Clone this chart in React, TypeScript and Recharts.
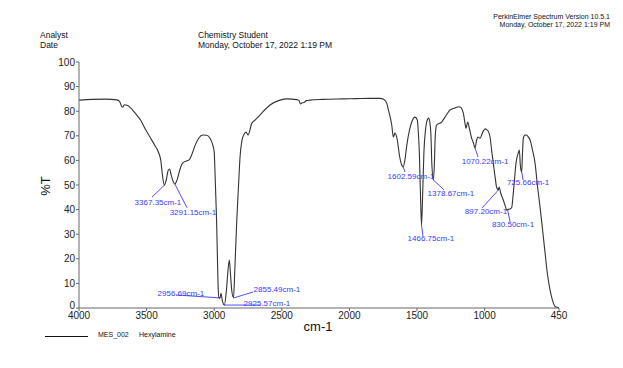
import React from 'react';
import {
    ComposedChart, Line, Scatter, XAxis, YAxis, ReferenceLine,
} from 'recharts';

// spectrum (cm-1 descending)
const wavenumbers = [
    4000, 3900, 3800, 3720, 3700, 3685, 3677, 3665, 3640, 3586, 3540, 3512, 3475, 3438, 3410, 3395, 3385, 3369,
    3355, 3340, 3330, 3318, 3300, 3290, 3275, 3255, 3235, 3204, 3185, 3165, 3142, 3115, 3083, 3055, 3031, 3012,
    3000, 2994, 2988, 2982, 2976, 2970, 2965, 2957, 2950, 2940, 2925, 2910, 2900, 2888, 2880, 2870, 2857, 2848,
    2834, 2820, 2809, 2795, 2780, 2765, 2750, 2735, 2723, 2698, 2661, 2612, 2587, 2513, 2464, 2390, 2372, 2362,
    2350, 2335, 2320, 2292, 2200, 2045, 1950, 1848, 1774, 1745, 1724, 1712, 1700, 1687, 1675, 1663, 1646, 1630,
    1613, 1603, 1590, 1576, 1555, 1539, 1515, 1498, 1490, 1483, 1473, 1467, 1460, 1449, 1438, 1429, 1414, 1405,
    1397, 1390, 1379, 1372, 1365, 1355, 1318, 1293, 1256, 1219, 1195, 1182, 1158, 1145, 1138, 1125, 1113, 1096,
    1082, 1071, 1059, 1050, 1034, 1014, 995, 985, 970, 960, 948, 936, 922, 911, 899, 893, 881, 862, 845, 837,
    830, 815, 800, 788, 778, 768, 751, 743, 736, 726, 720, 714, 704, 694, 680, 664, 645, 627, 610, 590, 570, 553,
    535, 516, 500, 479, 465, 450,
];
const transmittance = [
    84.5, 84.8, 84.9, 84.6, 84.0, 82.0, 81.6, 82.6, 82.3, 79.3, 76, 73, 69.5, 66, 63, 60, 55, 50,
    52, 56, 56.5, 54, 51, 50.4, 52, 56, 58.8, 59.8, 60.2, 62.5, 66, 69, 70.3, 70.2, 69, 66.5,
    63.4, 55, 45, 34.5, 20, 7.3, 4.2, 4.0, 6.0, 3, 1.2, 7, 14, 19.5, 14, 7, 4.2, 15,
    34.5, 50, 61.4, 68, 70.5, 71.5, 70.3, 72.5, 75, 76.4, 78.5, 81.3, 82.5, 84.5, 85, 84.7, 84.3, 82.9,
    83.4, 83.5, 84.3, 84.5, 84.8, 85, 85.1, 85.2, 85.2, 84.8, 83.3, 80.5, 78, 74.4, 69.5, 71.1, 68.3, 62,
    58.1, 57.3, 60, 66, 72.5, 75.6, 77.6, 76.4, 71, 63.4, 43, 33.7, 43, 63.4, 72, 75.6, 77.2, 75.5,
    70, 58, 52, 58, 70, 74.4, 75.6, 77.6, 80.5, 81.3, 81.8, 81.7, 79.3, 75, 73, 75.6, 73, 69,
    67, 65, 68.3, 69.5, 69, 71.5, 72.8, 72.5, 71.5, 69.5, 64, 58.9, 53, 49, 48, 49.2, 46.7, 43.9, 41, 39.8,
    40, 40.2, 40.8, 46.7, 53, 58.9, 63, 64.2, 58, 55.3, 63, 69, 70.2, 70.3, 69.8, 68.3, 64, 58.9, 50, 41, 31, 22.4,
    13.5, 7.3, 3.5, 0.6, 0.3, 0,
];

const xTicks = [4000, 3500, 3000, 2500, 2000, 1500, 1000, 450];
const yTicks = [0, 10, 20, 30, 40, 50, 60, 70, 80, 90, 100];

// peak labels: peak (cm-1, %T), leader end, text centre
const peakNames = ['3367.35cm-1', '3291.15cm-1', '2956.69cm-1', '2925.57cm-1', '2855.49cm-1', '1602.59cm-1',
    '1378.67cm-1', '1466.75cm-1', '1070.22cm-1', '725.66cm-1', '897.20cm-1', '830.50cm-1'];
const peakWn = [3367.35, 3291.15, 2956.69, 2925.57, 2855.49, 1602.59, 1378.67, 1466.75, 1070.22, 725.66, 897.2, 830.5];
const peakT = [50, 50.4, 4.1, 1.2, 4.1, 57.3, 52, 33.7, 65, 55.3, 48, 40];
const leadWn = [3460, 3201, 3283, 2661, 2713, 1589, 1300, 1456, 1049, 716, 1019, 812];
const leadT = [45.1, 40.7, 5.3, 1.2, 6.5, 55.3, 48, 29.3, 61.4, 52, 40.7, 35];
const textWn = [3416, 3157, 3246, 2610, 2536, 1545, 1249, 1397, 997, 679, 990, 790];
const textT = [43.1, 39.0, 6.1, 2.0, 7.7, 53.7, 46.7, 28.5, 59.8, 51.2, 39.4, 34.1];

const spectrum = wavenumbers.map((wn, i) => ({ wn, t: transmittance[i] }));
const peakLabels = peakNames.map((name, i) => ({ wn: textWn[i], t: textT[i], name }));

const FONT = '"Liberation Sans", Arial, sans-serif';
const BLUE = '#3a3aff';

const PeakText = (props: any) => {
    const { cx, cy, payload } = props;
    if (cx == null || cy == null) return null;
    return (
        <text x={cx} y={cy} dy={3} textAnchor="middle" fontSize={8} fill={BLUE} fontFamily={FONT}>
            {payload.name}
        </text>
    );
};

// the 0 label sits right on the corner, lift it a touch so it clears "4000"
const YTick = (props: any) => {
    const { x, y, payload } = props;
    const lift = payload.value === 0 ? -3 : 0;
    return (
        <text x={x} y={y + lift} dy={3.5} textAnchor="end" fontSize={10} fill="#222" fontFamily={FONT}>
            {payload.value}
        </text>
    );
};

export default function App() {
    return (
        <div style={{ position: 'absolute', left: 0, top: 0, width: 623, height: 368, background: '#fff', fontFamily: FONT, color: '#111' }}>
            <div style={{ position: 'absolute', right: 13, top: 13, fontSize: 7, textAlign: 'right', lineHeight: '8px' }}>
                <div>PerkinElmer Spectrum Version 10.5.1</div>
                <div>Monday, October 17, 2022 1:19 PM</div>
            </div>
            <div style={{ position: 'absolute', left: 40, top: 30, fontSize: 8.5, lineHeight: '10px', fontWeight: 500 }}>
                <div>Analyst</div>
                <div>Date</div>
            </div>
            <div style={{ position: 'absolute', left: 198, top: 30, fontSize: 8.5, lineHeight: '10px' }}>
                <div>Chemistry Student</div>
                <div>Monday, October 17, 2022 1:19 PM</div>
            </div>

            <ComposedChart width={623} height={368} data={spectrum} margin={{ top: 62, right: 64, bottom: 40, left: 39 }}>
                <XAxis
                    dataKey="wn" type="number" domain={[450, 4000]} reversed ticks={xTicks} interval={0}
                    height={20} tickSize={3} tickMargin={1} allowDataOverflow
                    stroke="#666" tick={{ fill: '#222', fontSize: 10, fontFamily: FONT }}
                />
                <YAxis
                    dataKey="t" type="number" domain={[0, 100]} ticks={yTicks} interval={0}
                    width={40} tickSize={3} tickMargin={1} allowDataOverflow
                    stroke="#666" tick={YTick}
                />
                {peakNames.map((name, i) => (
                    <ReferenceLine
                        key={name}
                        segment={[{ x: peakWn[i], y: peakT[i] }, { x: leadWn[i], y: leadT[i] }]}
                        stroke={BLUE} strokeWidth={0.9}
                    />
                ))}
                <Line type="monotone" dataKey="t" stroke="#333" strokeWidth={1.1} dot={false} isAnimationActive={false} />
                <Scatter data={peakLabels} dataKey="t" shape={PeakText} isAnimationActive={false} />
            </ComposedChart>

            <div style={{ position: 'absolute', left: 45, top: 186, transform: 'translate(-50%, -50%) rotate(-90deg)', fontSize: 13 }}>%T</div>
            <div style={{ position: 'absolute', left: 318, top: 326, transform: 'translate(-50%, -50%)', fontSize: 13 }}>cm-1</div>

            <div style={{ position: 'absolute', left: 45, top: 336, width: 43, height: 0, borderTop: '1.5px solid #111' }} />
            <div style={{ position: 'absolute', left: 98, top: 331, fontSize: 7 }}>MES_002</div>
            <div style={{ position: 'absolute', left: 139, top: 331, fontSize: 7 }}>Hexylamine</div>
        </div>
    );
}
